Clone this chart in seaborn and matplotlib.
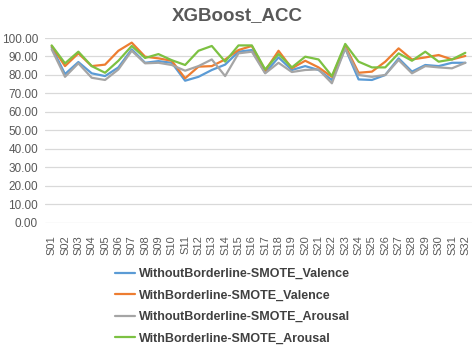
"""
XGBoost accuracy per subject, with and without Borderline-SMOTE
"""

import pandas as pd
import seaborn as sns
import matplotlib.pyplot as plt

# Data

subjects = ['S%02d' % i for i in range(1, 33)]

without_valence = [95.0, 80.5, 87.0, 80.9, 79.4, 84.1, 93.9, 86.6, 87.5, 86.6,
                   76.9, 79.0, 82.7, 85.6, 92.6, 93.5, 81.2, 89.5, 82.7, 84.8,
                   82.7, 77.3, 94.4, 77.6, 77.3, 80.0, 89.0, 81.8, 85.4, 84.8,
                   86.6, 86.6]
with_valence = [95.7, 84.8, 91.7, 84.8, 85.6, 93.1, 97.5, 89.9, 89.0, 87.7,
                78.2, 84.5, 84.8, 88.4, 93.5, 95.7, 82.3, 93.1, 83.6, 87.7,
                84.1, 79.0, 95.7, 81.2, 81.8, 87.2, 94.4, 88.4, 89.5, 90.8,
                88.4, 90.3]
without_arousal = [93.9, 79.0, 86.3, 78.5, 77.3, 83.0, 93.1, 86.3, 86.6, 85.4,
                   82.3, 84.8, 88.4, 79.4, 91.7, 92.6, 80.9, 86.6, 81.6, 82.7,
                   83.0, 75.5, 94.4, 80.0, 79.0, 80.0, 88.1, 80.9, 84.8, 84.1,
                   83.6, 86.6]
with_arousal = [96.0, 86.3, 92.6, 84.8, 81.2, 87.7, 95.7, 89.2, 91.3, 88.0,
                85.4, 93.1, 95.7, 87.2, 96.0, 96.0, 83.0, 91.3, 84.1, 89.9,
                88.4, 79.4, 96.8, 87.2, 84.1, 84.1, 91.7, 87.7, 92.6, 87.2,
                88.4, 92.0]

series_names = ['WithoutBorderline-SMOTE_Valence', 'WithBorderline-SMOTE_Valence',
                'WithoutBorderline-SMOTE_Arousal', 'WithBorderline-SMOTE_Arousal']
series_values = [without_valence, with_valence, without_arousal, with_arousal]
colors = ['#5B9BD5', '#ED7D31', '#A5A5A5', '#7CC142']
y_ticks = [0, 10, 20, 30, 40, 50, 60, 70, 80, 90, 100]

# Long-form table for seaborn

rows = []
for name, vals in zip(series_names, series_values):
    for i, v in enumerate(vals):
        rows.append({'Subject': subjects[i], 'Idx': i, 'ACC': v, 'Series': name})
df = pd.DataFrame(rows)

# Plot

sns.set_style('white')
plt.rcParams['font.family'] = ['Liberation Sans', 'DejaVu Sans']

fig = plt.figure(figsize=(4.74, 3.52), dpi=100)
ax = fig.add_axes([45 / 474, 0.367, 427 / 474, 0.525])

sns.lineplot(data=df, x='Idx', y='ACC', hue='Series', hue_order=series_names,
             palette=colors, linewidth=1.6, ax=ax, legend=True)

ax.set_xlim(-0.5, 31.5)
ax.set_ylim(0, 100)
ax.set_yticks(y_ticks)
ax.set_yticklabels(['%.2f' % t for t in y_ticks], fontsize=8.5, color='#595959')
ax.set_xticks(range(len(subjects)))
ax.set_xticklabels(subjects, rotation=90, fontsize=8, color='#595959')
ax.tick_params(axis='both', length=0)
ax.tick_params(axis='x', pad=9)
ax.tick_params(axis='y', pad=5)
ax.grid(axis='y', color='#D9D9D9', linewidth=0.9)
ax.set_axisbelow(True)
for s in ax.spines.values():
    s.set_visible(False)
ax.set_xlabel('')
ax.set_ylabel('')

handles, labels = ax.get_legend_handles_labels()
ax.get_legend().remove()
leg = fig.legend(handles, labels, loc='upper center', bbox_to_anchor=(0.49, 0.27),
                 frameon=False, ncol=1, handlelength=1.6, handletextpad=0.35,
                 labelspacing=0.75, prop={'size': 9, 'weight': 'bold'})
for t in leg.get_texts():
    t.set_color('#404040')

fig.suptitle('XGBoost_ACC', x=0.5, y=0.98, fontsize=13.5, fontweight='bold',
             color='#595959')

fig.savefig('out.png', dpi=100)
